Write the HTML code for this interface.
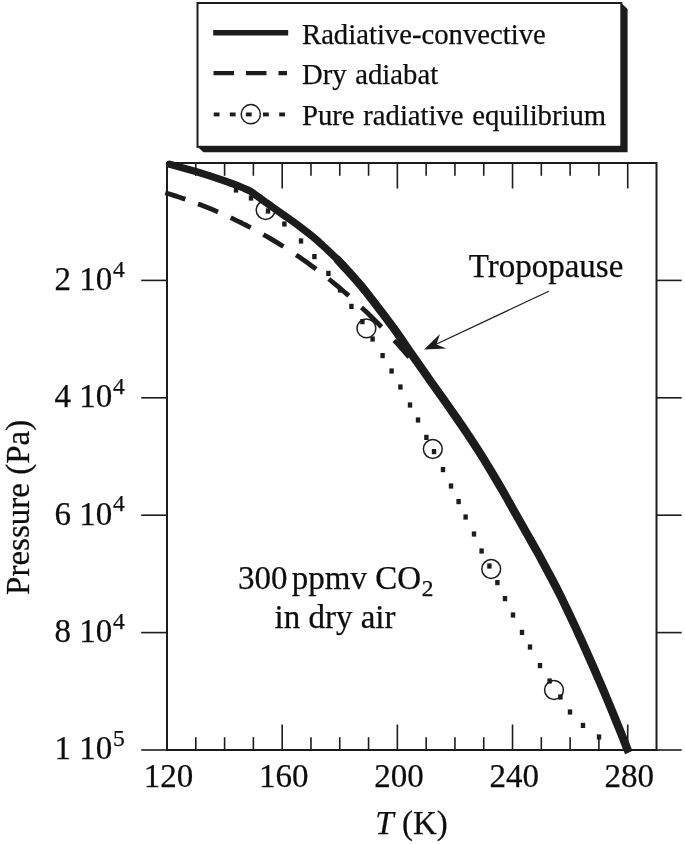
<!DOCTYPE html>
<html><head><meta charset="utf-8"><title>Radiative-convective equilibrium</title>
<style>
html,body{margin:0;padding:0;background:#fff;}
svg{display:block;}
text{font-family:"Liberation Serif",serif;fill:#0d0d0d;stroke:#0d0d0d;stroke-width:0.25px;}
</style></head><body>
<svg width="685" height="844" viewBox="0 0 685 844">
<rect width="685" height="844" fill="#fff"/>

<rect x="167.0" y="163.0" width="489.50" height="587.00" stroke="#1c1c1c" stroke-width="2" fill="none"/>
<g stroke="#1c1c1c" stroke-width="1.6" fill="none" stroke-linecap="butt">
<line x1="195.79" y1="163.0" x2="195.79" y2="175.8"/>
<line x1="195.79" y1="750.0" x2="195.79" y2="737.2"/>
<line x1="224.59" y1="163.0" x2="224.59" y2="175.8"/>
<line x1="224.59" y1="750.0" x2="224.59" y2="737.2"/>
<line x1="253.38" y1="163.0" x2="253.38" y2="175.8"/>
<line x1="253.38" y1="750.0" x2="253.38" y2="737.2"/>
<line x1="282.18" y1="163.0" x2="282.18" y2="188.5"/>
<line x1="282.18" y1="750.0" x2="282.18" y2="724.5"/>
<line x1="310.97" y1="163.0" x2="310.97" y2="175.8"/>
<line x1="310.97" y1="750.0" x2="310.97" y2="737.2"/>
<line x1="339.76" y1="163.0" x2="339.76" y2="175.8"/>
<line x1="339.76" y1="750.0" x2="339.76" y2="737.2"/>
<line x1="368.56" y1="163.0" x2="368.56" y2="175.8"/>
<line x1="368.56" y1="750.0" x2="368.56" y2="737.2"/>
<line x1="397.35" y1="163.0" x2="397.35" y2="188.5"/>
<line x1="397.35" y1="750.0" x2="397.35" y2="724.5"/>
<line x1="426.15" y1="163.0" x2="426.15" y2="175.8"/>
<line x1="426.15" y1="750.0" x2="426.15" y2="737.2"/>
<line x1="454.94" y1="163.0" x2="454.94" y2="175.8"/>
<line x1="454.94" y1="750.0" x2="454.94" y2="737.2"/>
<line x1="483.74" y1="163.0" x2="483.74" y2="175.8"/>
<line x1="483.74" y1="750.0" x2="483.74" y2="737.2"/>
<line x1="512.53" y1="163.0" x2="512.53" y2="188.5"/>
<line x1="512.53" y1="750.0" x2="512.53" y2="724.5"/>
<line x1="541.32" y1="163.0" x2="541.32" y2="175.8"/>
<line x1="541.32" y1="750.0" x2="541.32" y2="737.2"/>
<line x1="570.12" y1="163.0" x2="570.12" y2="175.8"/>
<line x1="570.12" y1="750.0" x2="570.12" y2="737.2"/>
<line x1="598.91" y1="163.0" x2="598.91" y2="175.8"/>
<line x1="598.91" y1="750.0" x2="598.91" y2="737.2"/>
<line x1="627.71" y1="163.0" x2="627.71" y2="188.5"/>
<line x1="627.71" y1="750.0" x2="627.71" y2="724.5"/>
<line x1="141.2" y1="280.40" x2="167.0" y2="280.40"/>
<line x1="656.5" y1="280.40" x2="681.7" y2="280.40"/>
<line x1="141.2" y1="397.80" x2="167.0" y2="397.80"/>
<line x1="656.5" y1="397.80" x2="681.7" y2="397.80"/>
<line x1="141.2" y1="515.20" x2="167.0" y2="515.20"/>
<line x1="656.5" y1="515.20" x2="681.7" y2="515.20"/>
<line x1="141.2" y1="632.60" x2="167.0" y2="632.60"/>
<line x1="656.5" y1="632.60" x2="681.7" y2="632.60"/>
<line x1="141.2" y1="750.00" x2="167.0" y2="750.00"/>
<line x1="656.5" y1="750.00" x2="681.7" y2="750.00"/>
</g>
<text x="168.60" y="787.3" font-size="33" text-anchor="middle">120</text>
<text x="283.78" y="787.3" font-size="33" text-anchor="middle">160</text>
<text x="398.95" y="787.3" font-size="33" text-anchor="middle">200</text>
<text x="514.13" y="787.3" font-size="33" text-anchor="middle">240</text>
<text x="629.31" y="787.3" font-size="33" text-anchor="middle">280</text>
<text x="54.5" y="289.70" font-size="33">2 10<tspan dy="-13.2" dx="0.8" font-size="23.5">4</tspan></text>
<text x="54.5" y="407.10" font-size="33">4 10<tspan dy="-13.2" dx="0.8" font-size="23.5">4</tspan></text>
<text x="54.5" y="524.50" font-size="33">6 10<tspan dy="-13.2" dx="0.8" font-size="23.5">4</tspan></text>
<text x="54.5" y="641.90" font-size="33">8 10<tspan dy="-13.2" dx="0.8" font-size="23.5">4</tspan></text>
<text x="54.5" y="759.30" font-size="33">1 10<tspan dy="-13.2" dx="0.8" font-size="23.5">5</tspan></text>
<text transform="translate(28.6 507.4) rotate(-90)" font-size="33" text-anchor="middle">Pressure (Pa)</text>
<text x="411.5" y="834" font-size="33" text-anchor="middle"><tspan font-style="italic">T</tspan> (K)</text>
<text x="546" y="276.9" font-size="33" text-anchor="middle">Tropopause</text>
<text x="335.8" y="589.2" font-size="33" text-anchor="middle">300<tspan dx="-4">&#160;</tspan>ppmv CO<tspan dy="7.2" dx="0.6" font-size="23.5">2</tspan></text>
<text x="335" y="627.8" font-size="33" text-anchor="middle">in dry air</text>
<g fill="none" stroke="#1c1c1c">
<path d="M165.3,192.7 L167.8,193.5 L170.3,194.3 L172.8,195.1 L175.3,195.9 L177.8,196.7 L180.3,197.5 L182.8,198.4 L185.3,199.2" stroke-width="4.8"/>
<path d="M198.0,203.9 L200.5,204.8 L203.0,205.8 L205.5,206.8 L208.0,207.8 L210.5,208.8 L213.0,209.8 L215.5,210.9 L218.0,212.0" stroke-width="4.8"/>
<path d="M230.7,217.7 L233.2,218.9 L235.7,220.1 L238.2,221.3 L240.7,222.5 L243.2,223.8 L245.7,225.0 L248.2,226.3 L250.7,227.6" stroke-width="4.8"/>
<path d="M263.4,234.6 L265.9,236.0 L268.4,237.4 L270.9,238.9 L273.4,240.4 L275.9,241.9 L278.4,243.4 L280.9,245.0 L283.4,246.6" stroke-width="4.8"/>
<path d="M296.1,254.9 L298.6,256.6 L301.1,258.3 L303.6,260.1 L306.1,261.8 L308.6,263.6 L311.1,265.5 L313.6,267.3 L316.1,269.2" stroke-width="4.8"/>
<path d="M328.8,279.0 L331.3,281.0 L333.8,283.1 L336.3,285.1 L338.8,287.2 L341.3,289.3 L343.8,291.5 L346.3,293.6 L348.8,295.8" stroke-width="4.8"/>
<path d="M361.5,307.4 L364.0,309.7 L366.5,312.1 L369.0,314.5 L371.5,316.9 L374.0,319.4 L376.5,321.9 L379.0,324.4 L381.5,327.0" stroke-width="4.8"/>
<path d="M394.2,340.4 L396.1,342.4 L398.0,344.5 L399.8,346.5 L401.7,348.6 L403.6,350.7 L405.5,352.9 L407.3,355.0 L409.2,357.2" stroke-width="4.8"/>
<path d="M169.5,164.3 C173.8,165.5 185.8,168.5 195.0,171.3 C204.2,174.1 217.5,178.4 225.0,180.9 C232.5,183.4 236.3,185.2 240.0,186.6 C243.7,188.0 245.1,188.7 247.0,189.6 C248.9,190.5 249.9,190.9 251.4,191.8 C252.9,192.7 253.5,193.4 256.0,195.2 C258.5,197.0 261.7,199.5 266.3,202.8 C270.9,206.1 278.2,211.1 283.8,215.1 C289.4,219.1 295.1,223.1 300.0,226.8 C304.9,230.5 310.1,234.5 313.4,237.2 C316.7,239.9 316.1,239.4 320.0,243.0 C323.9,246.6 332.0,254.0 336.7,258.7 C341.4,263.4 344.1,266.7 348.0,271.0 C351.9,275.3 358.0,282.2 360.0,284.5" stroke-width="7.4" stroke-linejoin="round" stroke-linecap="round"/>
<path d="M336.7,258.7 C338.6,260.8 344.1,266.7 348.0,271.0 C351.9,275.3 356.3,280.2 360.0,284.5 C363.7,288.8 366.7,292.8 370.0,297.0 C373.3,301.2 375.4,303.9 380.0,310.0 C384.6,316.1 392.9,327.1 397.4,333.4 C401.9,339.6 403.9,342.8 407.1,347.5 C410.4,352.2 413.3,356.5 416.9,361.7 C420.5,366.9 424.7,372.9 428.9,378.8 C433.1,384.7 437.4,390.7 442.0,397.2 C446.6,403.7 452.2,411.7 456.6,418.0 C461.0,424.3 464.1,428.8 468.2,435.0 C472.3,441.2 477.0,448.3 481.2,455.0 C485.4,461.7 489.4,468.3 493.4,475.0 C497.4,481.7 501.2,488.3 505.1,495.0 C508.9,501.7 512.5,508.3 516.3,515.0 C520.1,521.7 523.9,528.3 527.7,535.0 C531.5,541.7 535.3,548.3 539.0,555.0 C542.6,561.7 546.2,568.3 549.7,575.0 C553.3,581.7 556.8,588.3 560.1,595.0 C563.4,601.7 566.5,608.3 569.7,615.0 C572.9,621.7 576.0,628.3 579.0,635.0 C582.1,641.7 585.1,648.3 588.0,655.0 C591.0,661.7 593.9,668.3 596.8,675.0 C599.7,681.7 602.6,688.3 605.4,695.0 C608.2,701.7 610.9,708.3 613.7,715.0 C616.4,721.7 619.4,729.2 621.8,735.0 C624.1,740.8 626.5,747.1 627.7,750.0 C628.9,752.9 628.7,752.1 628.9,752.5" stroke-width="8.3" stroke-linejoin="round" stroke-linecap="butt"/>
</g>
<g fill="#1c1c1c">
<rect x="233.8" y="187.4" width="4.4" height="5.2"/>
<rect x="248.8" y="195.4" width="4.4" height="5.2"/>
<rect x="265.8" y="208.4" width="4.4" height="5.2"/>
<rect x="282.2" y="221.4" width="4.4" height="5.2"/>
<rect x="298.8" y="238.4" width="4.4" height="5.2"/>
<rect x="312.2" y="254.0" width="4.4" height="5.2"/>
<rect x="326.2" y="270.8" width="4.4" height="5.2"/>
<rect x="337.8" y="287.4" width="4.4" height="5.2"/>
<rect x="349.2" y="303.8" width="4.4" height="5.2"/>
<rect x="360.2" y="319.0" width="4.4" height="5.2"/>
<rect x="370.4" y="336.4" width="4.4" height="5.2"/>
<rect x="380.4" y="353.0" width="4.4" height="5.2"/>
<rect x="389.4" y="368.4" width="4.4" height="5.2"/>
<rect x="398.2" y="384.4" width="4.4" height="5.2"/>
<rect x="407.8" y="402.4" width="4.4" height="5.2"/>
<rect x="415.8" y="417.4" width="4.4" height="5.2"/>
<rect x="424.2" y="434.8" width="4.4" height="5.2"/>
<rect x="431.8" y="449.0" width="4.4" height="5.2"/>
<rect x="440.8" y="467.0" width="4.4" height="5.2"/>
<rect x="448.8" y="483.4" width="4.4" height="5.2"/>
<rect x="456.4" y="499.0" width="4.4" height="5.2"/>
<rect x="463.4" y="514.4" width="4.4" height="5.2"/>
<rect x="471.8" y="531.4" width="4.4" height="5.2"/>
<rect x="479.4" y="548.4" width="4.4" height="5.2"/>
<rect x="487.2" y="563.4" width="4.4" height="5.2"/>
<rect x="495.2" y="580.0" width="4.4" height="5.2"/>
<rect x="502.8" y="596.0" width="4.4" height="5.2"/>
<rect x="510.8" y="612.4" width="4.4" height="5.2"/>
<rect x="519.8" y="629.8" width="4.4" height="5.2"/>
<rect x="527.8" y="644.4" width="4.4" height="5.2"/>
<rect x="537.8" y="663.0" width="4.4" height="5.2"/>
<rect x="547.4" y="678.4" width="4.4" height="5.2"/>
<rect x="558.2" y="694.4" width="4.4" height="5.2"/>
<rect x="567.8" y="709.4" width="4.4" height="5.2"/>
<rect x="580.8" y="722.8" width="4.4" height="5.2"/>
<rect x="596.8" y="734.4" width="4.4" height="5.2"/>
</g>
<g fill="none" stroke="#1c1c1c" stroke-width="1.5">
<circle cx="265.6" cy="210" r="9.4"/>
<circle cx="366.4" cy="328.4" r="9.4"/>
<circle cx="432.8" cy="449" r="9.4"/>
<circle cx="491.2" cy="569" r="9.4"/>
<circle cx="554" cy="690" r="9.4"/>
</g>
<g stroke="#1c1c1c" fill="#1c1c1c"><line x1="548.8" y1="291.2" x2="434" y2="345.2" stroke-width="1.25"/>
<path d="M424,349.6 L440,334 L436.4,344.4 L446.4,348.4 Z" stroke="none"/></g>
<g>
<path d="M621.3,3 L627.6,9 L627.6,152.2 L203.5,152.2 L197.5,146.8 L621.3,146.8 Z" fill="#1c1c1c"/>
<rect x="197.5" y="3" width="423.8" height="143.8" fill="#fff" stroke="#1c1c1c" stroke-width="2"/>
<line x1="213.2" y1="32.7" x2="288.2" y2="32.7" stroke="#1c1c1c" stroke-width="5.6"/>
<line x1="213.5" y1="73.2" x2="287" y2="73.2" stroke="#1c1c1c" stroke-width="4.3" stroke-dasharray="20.5 12"/>
<rect x="213.7" y="112.5" width="5.8" height="3.9" fill="#1c1c1c"/>
<rect x="229.8" y="112.5" width="5.8" height="3.9" fill="#1c1c1c"/>
<rect x="245.9" y="112.5" width="5.8" height="3.9" fill="#1c1c1c"/>
<rect x="263" y="112.5" width="5.8" height="3.9" fill="#1c1c1c"/>
<rect x="279.2" y="112.5" width="5.8" height="3.9" fill="#1c1c1c"/>
<circle cx="250.8" cy="114.2" r="9.6" fill="none" stroke="#1c1c1c" stroke-width="1.5"/>
<text x="302" y="44" font-size="28.7" word-spacing="1.5">Radiative-convective</text>
<text x="302" y="84.4" font-size="28.7" word-spacing="1.5">Dry adiabat</text>
<text x="302" y="125.3" font-size="28.7" word-spacing="1.5">Pure radiative equilibrium</text>
</g>
</svg></body></html>
